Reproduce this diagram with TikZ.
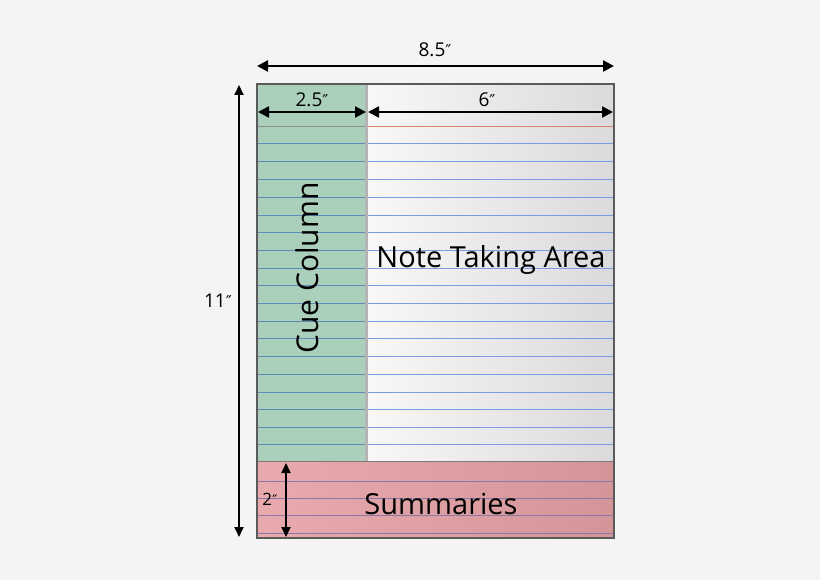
\documentclass[tikz,border=0pt]{standalone}
\usepackage{fontspec}
\setmainfont{Open Sans}
\newfontfamily\primefont{DejaVu Sans}
\usetikzlibrary{arrows.meta}
\definecolor{bg}{HTML}{F4F4F4}
\definecolor{cuegreen}{HTML}{AACFBB}
\definecolor{notel}{HTML}{F8F8F8}
\definecolor{noter}{HTML}{DADADD}
\definecolor{pinkl}{HTML}{E9AAAD}
\definecolor{pinkr}{HTML}{D39598}
\definecolor{bluel}{HTML}{7A9CE0}
\definecolor{bluec}{HTML}{5E8CBA}
\definecolor{redl}{HTML}{E0806C}
\definecolor{pinkline}{HTML}{8C78A8}
\definecolor{framec}{HTML}{5A5A5A}
\definecolor{stripc}{HTML}{B4B4B4}
\newcommand{\inch}{{\primefont\fontsize{0.85em}{1em}\selectfont ″}}
\tikzset{
  dimarrow/.style={line width=2.4bp, {Triangle[length=11bp,width=11bp]}-{Triangle[length=11bp,width=11bp]}},
  thinarrow/.style={line width=1.8bp, {Triangle[length=10bp,width=9bp]}-{Triangle[length=10bp,width=9bp]}},
  biglabel/.style={font=\fontsize{29bp}{35bp}\selectfont, inner sep=0pt, anchor=base},
  dimlabel/.style={font=\fontsize{19bp}{23bp}\selectfont, inner sep=0pt, anchor=base},
  smalllabel/.style={font=\fontsize{17bp}{20bp}\selectfont, inner sep=0pt, anchor=base},
  ruleline/.style={line width=1.1bp},
}
\begin{document}
\begin{tikzpicture}[x=1bp,y=-1bp]
\fill[bg] (0,0) rectangle (820,580);
\useasboundingbox (0,0) rectangle (820,580);
\coordinate (TL) at (257,84);
\coordinate (BR) at (614,538);
\shade[left color=notel, right color=noter] (367,84) rectangle (614,461);
\fill[cuegreen] (257,84) rectangle (366,461);
\fill[stripc] (365,84) rectangle (368,461);
\shade[left color=pinkl, right color=pinkr] (257,461) rectangle (614,538);
\draw[ruleline, redl] (368,126.5) -- (614,126.5);
\draw[ruleline, black!45] (257,126.5) -- (365,126.5);
\foreach \yy in {143.5,161.5,179.5,197.5,215.5,232.5,250.5,268.5,285.5,303.5,321.5,338.5,356.5,374.5,392.5,409.5,427.5,444.5}{
  \draw[ruleline, bluel] (368,\yy) -- (614,\yy);
  \draw[ruleline, bluec] (257,\yy) -- (365,\yy);
}
\foreach \yy in {481.5,498.5,515.5,533.5}{
  \draw[ruleline, pinkline] (257,\yy) -- (614,\yy);
}
\draw[line width=1.2bp, framec!80] (257,461.5) -- (614,461.5);
\draw[line width=1.3bp, framec] (TL) rectangle (BR);
\node[biglabel] (note) at (491,267) {Note Taking Area};
\node[biglabel] (summ) at (441,514) {Summaries};
\node[biglabel, font=\fontsize{30bp}{36bp}\selectfont, rotate=90] (cue) at (318,268) {Cue Column};
\coordinate (wL) at (257,66);
\coordinate (wR) at (614,66);
\draw[dimarrow] (wL) -- (wR);
\node[dimlabel] (w) at (435,57) {8.5\inch};
\coordinate (hT) at (239,85);
\coordinate (hB) at (239,537);
\draw[thinarrow] (hT) -- (hB);
\node[dimlabel] (h) at (218,307) {11\inch};
\coordinate (cL) at (258,112);
\coordinate (cR) at (366,112);
\draw[dimarrow] (cL) -- (cR);
\node[dimlabel] (c) at (312,107) {2.5\inch};
\coordinate (nL) at (368,112);
\coordinate (nR) at (613,112);
\draw[dimarrow] (nL) -- (nR);
\node[dimlabel] (n) at (487,107) {6\inch};
\coordinate (sT) at (286,463);
\coordinate (sB) at (286,537);
\draw[thinarrow] (sT) -- (sB);
\node[smalllabel] (s) at (270,505) {2\inch};
\end{tikzpicture}
\end{document}
